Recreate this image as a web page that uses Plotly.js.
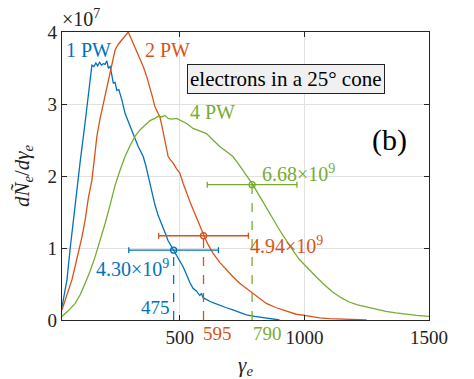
<!DOCTYPE html>
<html>
<head>
<meta charset="utf-8">
<script src="https://cdn.plot.ly/plotly-3.0.1.min.js"></script>
<style>html,body{margin:0;padding:0;background:#fff;}#chart{width:474px;height:379px;}</style>
</head>
<body>
<div id="chart"></div>
<script>
// values in units of 1e7
const blueX = [27,40,47,60,73,87,100,120,140,147,155,163,170,178,185,193,200,207,213,220,227,233,240,247,255,262,267,280,293,307,320,333,345,353,363,373,387,400,413,427,440,453,465,475,487,500,513,527,540,553,567,580,587,593,607,620,633,660,687,713,740,767,800,833,867,900];
const blueY = [0.18,0.4,0.56,1.0,1.4,1.8,2.2,2.75,3.3,3.54,3.52,3.57,3.53,3.58,3.54,3.56,3.55,3.6,3.5,3.52,3.4,3.29,3.3,3.19,3.2,3.12,3.06,2.87,2.75,2.64,2.52,2.41,2.33,2.27,2.15,2.0,1.75,1.6,1.45,1.34,1.22,1.1,1.03,0.97,0.9,0.82,0.74,0.63,0.52,0.44,0.40,0.34,0.37,0.31,0.28,0.26,0.24,0.2,0.17,0.14,0.1,0.07,0.05,0.03,0.01,0.0];
const orangeX = [27,47,67,80,93,107,120,133,147,160,167,180,193,207,220,230,240,253,267,280,293,303,313,323,333,343,353,367,380,390,400,410,420,430,440,453,463,473,487,500,513,527,543,560,577,597,613,633,660,687,713,740,767,793,820,847,887,927,967,1007,1060,1100,1150,1200,1250];
const orangeY = [0.14,0.35,0.56,0.75,0.93,1.15,1.39,1.7,1.94,2.38,2.55,2.8,3.01,3.25,3.47,3.62,3.75,3.83,3.89,3.95,4.0,3.92,3.84,3.75,3.66,3.6,3.52,3.38,3.24,3.1,2.96,2.88,2.82,2.66,2.5,2.27,2.22,2.18,2.1,2.04,1.9,1.76,1.62,1.48,1.33,1.17,1.05,0.93,0.8,0.69,0.6,0.51,0.44,0.37,0.3,0.23,0.17,0.12,0.08,0.06,0.03,0.02,0.01,0.005,0.0];
const greenX = [27,50,80,100,120,140,160,180,200,220,240,260,280,300,320,340,360,380,400,413,427,440,453,467,487,500,527,553,580,607,633,660,687,713,733,753,773,793,820,847,873,900,927,953,980,1007,1047,1080,1113,1147,1180,1213,1247,1287,1327,1367,1407,1450,1500];
const greenY = [0.05,0.12,0.23,0.35,0.51,0.68,0.88,1.1,1.34,1.6,1.87,2.08,2.27,2.42,2.55,2.64,2.71,2.77,2.8,2.83,2.82,2.84,2.8,2.79,2.8,2.78,2.73,2.66,2.63,2.59,2.5,2.41,2.34,2.27,2.18,2.08,1.98,1.88,1.72,1.57,1.41,1.25,1.1,0.97,0.84,0.74,0.6,0.49,0.39,0.31,0.25,0.21,0.18,0.15,0.12,0.1,0.08,0.065,0.05];

const seriesNames = ['1 PW','2 PW','4 PW'];
const meanGamma = [475,595,790];
const meanY = [0.97,1.17,1.88];
const spreadGamma = [180,180,180];
const totalLabels = ['4.30×10<sup>9</sup>','4.94×10<sup>9</sup>','6.68×10<sup>9</sup>'];
const xTicks = [500,1000,1500];
const yTicks = [0,1,2,3,4];
const colors = ['#0072BD','#D95319','#77AC30'];
const FONT = 'Liberation Serif';

const xs = [blueX, orangeX, greenX], ys = [blueY, orangeY, greenY];
const traces = [];
for (let i = 0; i < 3; i++) {
  traces.push({x: xs[i], y: ys[i], type: 'scatter', mode: 'lines', line: {color: colors[i], width: 1.3}, hoverinfo: 'skip'});
}
for (let i = 0; i < 3; i++) {
  traces.push({x: [meanGamma[i], meanGamma[i]], y: [0, meanY[i]], type: 'scatter', mode: 'lines',
    line: {color: colors[i], width: 1.3, dash: 'dash'}, hoverinfo: 'skip'});
  traces.push({x: [meanGamma[i]], y: [meanY[i]], type: 'scatter', mode: 'markers',
    marker: {symbol: 'circle-open', size: 6, color: colors[i], line: {width: 1.3}},
    error_x: {type: 'data', array: [spreadGamma[i]], color: colors[i], thickness: 1.3, width: 3}, hoverinfo: 'skip'});
}

const labelPos = [[308,0.72],[928,1.04],[976,2.04]];
const nameLabelPos = [[132,3.75],[452,3.75],[632,2.89]];
const annotations = [];
for (let i = 0; i < 3; i++) {
  annotations.push({x: nameLabelPos[i][0], y: nameLabelPos[i][1], xref: 'x', yref: 'y', text: seriesNames[i], showarrow: false, font: {family: FONT, size: 20, color: colors[i]}});
  annotations.push({x: labelPos[i][0], y: labelPos[i][1], xref: 'x', yref: 'y', text: totalLabels[i], showarrow: false, font: {family: FONT, size: 20, color: colors[i]}});
}
annotations.push({x: 404, y: 0, xref: 'x', yref: 'paper', yanchor: 'bottom', yshift: 0, text: String(meanGamma[0]), showarrow: false, font: {family: FONT, size: 19, color: colors[0]}});
annotations.push({x: 652, y: 0, xref: 'x', yref: 'paper', yanchor: 'top', yshift: -1, text: String(meanGamma[1]), showarrow: false, font: {family: FONT, size: 19, color: colors[1]}});
annotations.push({x: 852, y: 0, xref: 'x', yref: 'paper', yanchor: 'top', yshift: -1, text: String(meanGamma[2]), showarrow: false, font: {family: FONT, size: 19, color: colors[2]}});
annotations.push({x: 926, y: 3.35, xref: 'x', yref: 'y', text: 'electrons in a 25° cone', showarrow: false,
  font: {family: FONT, size: 21, color: '#000'}, bgcolor: '#f0f0f0', bordercolor: '#222', borderwidth: 1, borderpad: 2});
annotations.push({x: 1340, y: 2.5, xref: 'x', yref: 'y', text: '(b)', showarrow: false, font: {family: FONT, size: 30, color: '#000'}});
annotations.push({x: -0.005, y: 1, xref: 'paper', yref: 'paper', xanchor: 'left', yanchor: 'bottom', text: '×10<sup>7</sup>', showarrow: false, font: {family: FONT, size: 20, color: '#222'}});

const layout = {
  width: 474, height: 379,
  margin: {l: 62, r: 45, t: 32, b: 59},
  paper_bgcolor: '#fff', plot_bgcolor: '#fff',
  showlegend: false,
  font: {family: FONT, size: 18, color: '#222'},
  xaxis: {range: [27, 1500], tickvals: xTicks, ticktext: xTicks.map(String), ticks: 'inside', ticklen: 5, tickcolor: '#262626',
    showline: true, linecolor: '#262626', linewidth: 1.2, mirror: 'ticks', showgrid: true, gridcolor: '#e2e2e2', zeroline: false,
    tickfont: {family: FONT, size: 19, color: '#222'},
    title: {text: '<i>γ</i><sub><i>e</i></sub>', font: {family: FONT, size: 21, color: '#222'}, standoff: 13}},
  yaxis: {range: [0, 4], tickvals: yTicks, ticktext: yTicks.map(String), ticks: 'inside', ticklen: 5, tickcolor: '#262626',
    showline: true, linecolor: '#262626', linewidth: 1.2, mirror: 'ticks', showgrid: true, gridcolor: '#e2e2e2', zeroline: false,
    tickfont: {family: FONT, size: 19, color: '#222'},
    title: {text: '<i>dÑ</i><sub><i>e</i></sub>/<i>dγ</i><sub><i>e</i></sub>', font: {family: FONT, size: 21, color: '#222'}, standoff: 12}},
  annotations: annotations
};
Plotly.newPlot('chart', traces, layout, {staticPlot: true, displayModeBar: false});
</script>
</body>
</html>
